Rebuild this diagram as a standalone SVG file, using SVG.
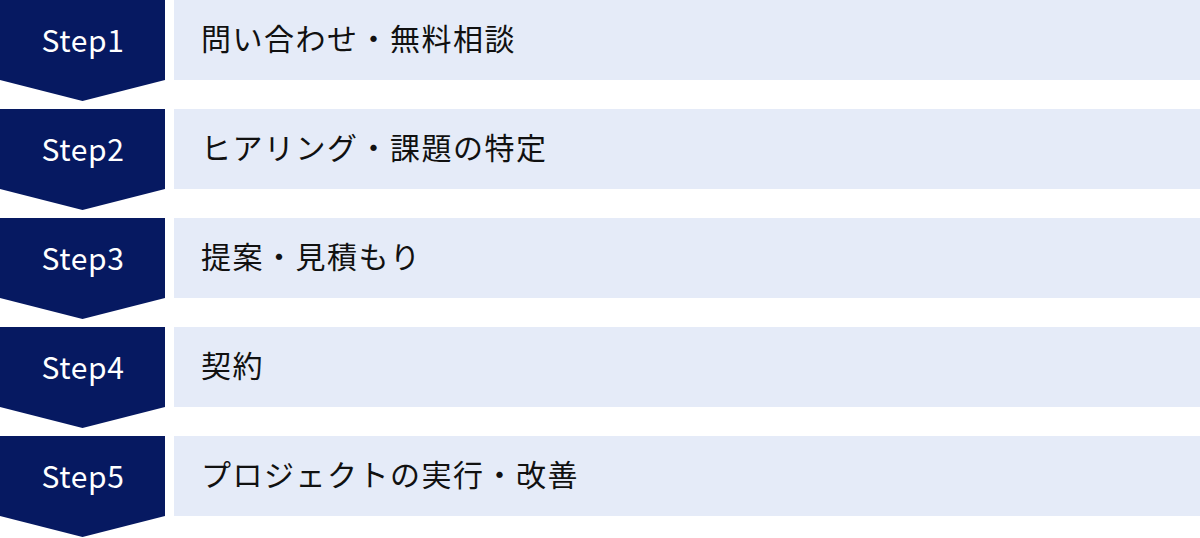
<svg xmlns="http://www.w3.org/2000/svg" width="1200" height="538" viewBox="0 0 1200 538">
<style>
.step{fill:#061961}
.bar{fill:#e5ebf8}
.lbl{font-family:"Noto Sans CJK JP","Noto Sans",sans-serif;font-size:30px;fill:#ffffff;text-anchor:middle;letter-spacing:0.6px}
.txt{font-family:"Noto Sans CJK JP","Noto Sans",sans-serif;font-size:30px;fill:#111111;letter-spacing:1.5px}
</style>
<defs>
<path id="chev" d="M0 0H165V80L82.5 101L0 80Z"/>
</defs>
<rect width="1200" height="538" fill="#ffffff"/>
<g id="connectors"></g>
<g id="step1" transform="translate(0,0)">
<use href="#chev" class="step"/>
<rect class="bar" x="174" y="0" width="1026" height="80"/>
<text class="lbl" x="83" y="52">Step1</text>
<text class="txt" x="201" y="50">問い合わせ・無料相談</text>
</g>
<g id="step2" transform="translate(0,109)">
<use href="#chev" class="step"/>
<rect class="bar" x="174" y="0" width="1026" height="80"/>
<text class="lbl" x="83" y="52">Step2</text>
<text class="txt" x="201" y="50">ヒアリング・課題の特定</text>
</g>
<g id="step3" transform="translate(0,218)">
<use href="#chev" class="step"/>
<rect class="bar" x="174" y="0" width="1026" height="80"/>
<text class="lbl" x="83" y="52">Step3</text>
<text class="txt" x="201" y="50">提案・見積もり</text>
</g>
<g id="step4" transform="translate(0,327)">
<use href="#chev" class="step"/>
<rect class="bar" x="174" y="0" width="1026" height="80"/>
<text class="lbl" x="83" y="52">Step4</text>
<text class="txt" x="201" y="50">契約</text>
</g>
<g id="step5" transform="translate(0,436)">
<use href="#chev" class="step"/>
<rect class="bar" x="174" y="0" width="1026" height="80"/>
<text class="lbl" x="83" y="52">Step5</text>
<text class="txt" x="201" y="50">プロジェクトの実行・改善</text>
</g>
</svg>
